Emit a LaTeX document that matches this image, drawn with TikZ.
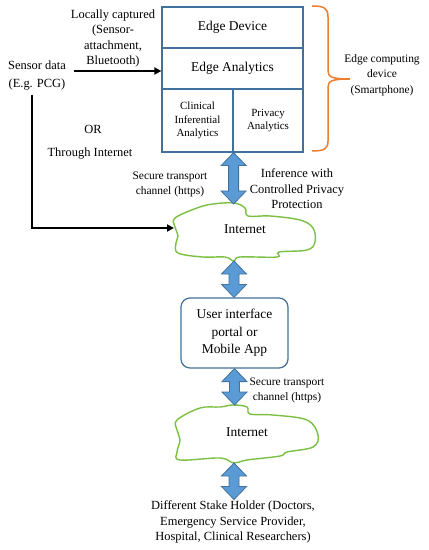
\documentclass[tikz,border=0pt]{standalone}
\usepackage{fontspec}
\setmainfont{Liberation Serif}
\usetikzlibrary{arrows.meta,calc}
\definecolor{boxblue}{HTML}{41719C}
\definecolor{fillblue}{HTML}{5B9BD5}
\definecolor{cloudgreen}{HTML}{7CC043}
\definecolor{braceorange}{HTML}{ED7D31}
\newcommand{\dbarrow}[2]{%
  \filldraw[barrow] let \p1=(#1), \p2=(#2) in
    (\x1,\y1) -- (\x1+12.5bp,\y1-13bp) -- (\x1+5bp,\y1-13bp) -- (\x1+5bp,\y2+13bp)
    -- (\x1+12.5bp,\y2+13bp) -- (\x1,\y2) -- (\x1-12.5bp,\y2+13bp) -- (\x1-5bp,\y2+13bp)
    -- (\x1-5bp,\y1-13bp) -- (\x1-12.5bp,\y1-13bp) -- cycle;}
\tikzset{
  bigf/.style={font=\fontsize{13.5}{17.5}\selectfont},
  medf/.style={font=\fontsize{12.5}{15.6}\selectfont},
  smlf/.style={font=\fontsize{11.5}{15.5}\selectfont},
  tnyf/.style={font=\fontsize{11}{13.5}\selectfont},
  cell/.style={draw=boxblue, line width=1.2bp, inner sep=0pt, align=center},
  uibox/.style={draw=boxblue, line width=1.2bp, rounded corners=9bp, align=center, inner sep=0pt},
  lbl/.style={align=center, inner sep=2bp},
  barrow/.style={fill=fillblue, draw=boxblue, line width=0.8bp, line join=miter},
  conn/.style={draw=black, line width=1.8bp, -{Triangle[length=7bp,width=7bp]}},
  cloudline/.style={draw=cloudgreen, line width=1.4bp},
  bracestyle/.style={draw=braceorange, line width=1.5bp},
}
\begin{document}
\begin{tikzpicture}[x=1bp,y=-1bp]
\useasboundingbox (0,0) rectangle (428,550);
\fill[white] (0,0) rectangle (428,550);

% edge device block
\node[cell, bigf, minimum width=141bp, minimum height=41bp] (dev) at (232.5,27.5) {Edge Device};
\node[cell, bigf, minimum width=141bp, minimum height=41bp] (ana) at (232.5,68.5) {Edge Analytics};
\node[cell, tnyf, minimum width=71bp, minimum height=63bp] (cli) at (197.5,120.5) {Clinical\\Inferential\\Analytics};
\node[cell, tnyf, minimum width=70bp, minimum height=63bp] (pri) at (268,120.5) {Privacy\\Analytics};

% brace
\draw[bracestyle] (312,6) .. controls (324,6) and (328,8) .. (328,17) -- (328,71)
  .. controls (328,77) and (332,79) .. (350,79)
  .. controls (332,79) and (328,81) .. (328,87) -- (328,141)
  .. controls (328,149) and (324,151) .. (312,151);
\node[lbl, smlf] (edc) at (382,75) {Edge computing\\device\\(Smartphone)};

% left texts
\node[lbl, medf] (sensor) at (37,65) {Sensor data};
\node[lbl, medf] (pcg) at (37,85) {(E.g. PCG)};
\node[lbl, medf] (local) at (113,38.5) {Locally captured\\(Sensor-\\attachment,\\Bluetooth)};
\node[lbl, medf] (or) at (93,129) {OR};
\node[lbl, medf] (thr) at (90,154) {Through Internet};
\node[lbl, smlf] (sec1) at (170,184.5) {Secure transport\\channel (https)};
\node[lbl, medf] (inf) at (297,189) {Inference with\\Controlled Privacy\\Protection};

% cloud 1
\draw[cloudline] plot[smooth cycle, tension=0.6] coordinates {
 (175,218) (197,208) (213,204) (234,203) (245,208) (248,216) (270,216) (300,220)
 (313,228) (315,242) (307,250) (279,252) (277,257) (240,257) (234,261) (225,257)
 (203,257) (178,253) (176,243) (178,236) (175,227)};
\node[lbl, bigf] (net1) at (245,229) {Internet};
\coordinate (c1top) at (234,204);
\coordinate (c1bot) at (234,261);
\coordinate (c1left) at (174,228);

% user interface box
\node[uibox, bigf, minimum width=107bp, minimum height=70bp] (ui) at (234.5,333) {User interface\\portal or\\Mobile App};

\node[lbl, smlf] (sec2) at (287,390.5) {Secure transport\\channel (https)};

% cloud 2
\draw[cloudline] plot[smooth cycle, tension=0.6] coordinates {
 (177,420) (200,408) (220,407) (233,405) (247,407) (250,414) (273,415) (307,420)
 (318,435) (313,447) (287,452) (280,456) (247,460) (234,463) (220,458) (180,460)
 (177,452) (180,440) (177,430)};
\node[lbl, bigf] (net2) at (247,432) {Internet};
\coordinate (c2top) at (233,405);
\coordinate (c2bot) at (234,463);

\node[lbl, medf, inner sep=1bp] (stake) at (233,522) {Different Stake Holder (Doctors,\\Emergency Service Provider,\\Hospital, Clinical Researchers)};

% block double arrows
\dbarrow{cli.south east}{c1top}
\dbarrow{c1bot}{ui.north}
\dbarrow{ui.south}{c2top}
\dbarrow{c2bot}{stake.north}

% black connectors
\coordinate (s1) at (74,71);
\draw[conn] (s1) -- (ana.west |- s1);
\coordinate (s2) at (32,95);
\draw[conn] (s2) |- (c1left);
\end{tikzpicture}
\end{document}
